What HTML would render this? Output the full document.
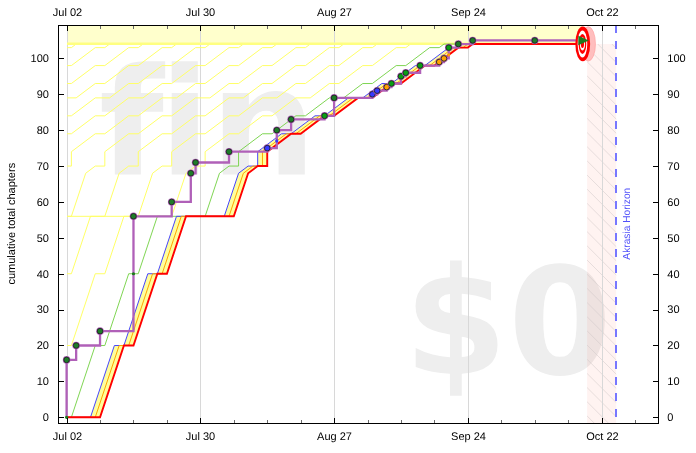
<!DOCTYPE html>
<html><head><meta charset="utf-8"><title>chart</title>
<style>
html,body{margin:0;padding:0;background:#fff;}
body{width:696px;height:453px;overflow:hidden;}
svg{display:block;will-change:transform;text-rendering:geometricPrecision;font-family:"Liberation Sans",sans-serif;}
</style></head><body>
<svg width="696" height="453" viewBox="0 0 696 453">
<defs>
<clipPath id="cp"><rect x="66.00" y="25.50" width="516.52" height="398.00"/></clipPath>
<clipPath id="cpi"><rect x="67.00" y="43.54" width="515.52" height="379.46"/></clipPath>
<clipPath id="cpk"><rect x="587.12" y="44.04" width="29.08" height="379.46"/></clipPath>
</defs>
<rect width="100%" height="100%" fill="#fff"/>
<g fill="#eeeeee">
<path transform="translate(99.00 174.60) scale(0.07280 -0.07280)" d="M909 1556V1321H711Q635 1321 605 1294Q575 1266 575 1198V1120H881V864H575V0H217V864H39V1120H217V1198Q217 1381 319 1468Q421 1556 635 1556Z"/>
<path transform="translate(159.20 174.60) scale(0.07280 -0.07280)" d="M172 1120H530V0H172ZM172 1556H530V1264H172Z"/>
<path transform="translate(210.30 174.60) scale(0.07280 -0.07280)" d="M1298 682V0H938V111V522Q938 667 932 722Q925 777 909 803Q888 838 852 858Q816 877 770 877Q658 877 594 790Q530 704 530 551V0H172V1120H530V956Q611 1054 702 1100Q793 1147 903 1147Q1097 1147 1198 1028Q1298 909 1298 682Z"/>
<path transform="translate(403.90 373.80) scale(0.07280 -0.07280)" d="M795 -301H633L632 0Q507 5 390 28Q273 51 162 92V354Q277 295 394 264Q512 232 633 228V539L600 545Q361 587 260 677Q160 767 160 936Q160 1115 282 1216Q405 1316 632 1325L633 1556H795V1329Q895 1321 995 1304Q1095 1287 1196 1260V1006Q1096 1048 996 1072Q896 1095 795 1100V813L827 807Q1081 767 1184 674Q1286 580 1286 397Q1286 213 1164 114Q1042 16 795 2ZM633 836V1097Q562 1093 520 1058Q477 1024 477 971Q477 912 516 878Q555 845 633 836ZM795 510V232Q882 233 926 266Q969 299 969 365Q969 433 929 466Q889 500 795 510Z"/>
<path transform="translate(508.10 373.80) scale(0.07280 -0.07280)" d="M942 748Q942 1028 890 1142Q837 1257 713 1257Q589 1257 536 1142Q483 1028 483 748Q483 465 536 349Q589 233 713 233Q836 233 889 349Q942 465 942 748ZM1327 745Q1327 374 1167 172Q1007 -29 713 -29Q418 -29 258 172Q98 374 98 745Q98 1117 258 1318Q418 1520 713 1520Q1007 1520 1167 1318Q1327 1117 1327 745Z"/>
</g>
<rect x="67.00" y="25.50" width="515.52" height="18.54" fill="#ffffcc"/>
<line x1="67.5" y1="25.5" x2="67.5" y2="423.5" stroke="#d8d8d8" stroke-width="1"/>
<line x1="200.5" y1="25.5" x2="200.5" y2="423.5" stroke="#d8d8d8" stroke-width="1"/>
<line x1="334.5" y1="25.5" x2="334.5" y2="423.5" stroke="#d8d8d8" stroke-width="1"/>
<line x1="468.5" y1="25.5" x2="468.5" y2="423.5" stroke="#d8d8d8" stroke-width="1"/>
<line x1="602.5" y1="25.5" x2="602.5" y2="423.5" stroke="#d8d8d8" stroke-width="1"/>
<rect x="587.12" y="44.04" width="29.08" height="379.46" fill="#ff2400" fill-opacity="0.055"/>
<g clip-path="url(#cpk)" stroke="#d0c8c8" stroke-opacity="0.5" stroke-width="1">
<line x1="585.1" y1="17.2" x2="618.2" y2="50.3"/>
<line x1="585.1" y1="31.4" x2="618.2" y2="64.5"/>
<line x1="585.1" y1="45.5" x2="618.2" y2="78.6"/>
<line x1="585.1" y1="59.7" x2="618.2" y2="92.8"/>
<line x1="585.1" y1="73.9" x2="618.2" y2="107.0"/>
<line x1="585.1" y1="88.0" x2="618.2" y2="121.1"/>
<line x1="585.1" y1="102.2" x2="618.2" y2="135.3"/>
<line x1="585.1" y1="116.4" x2="618.2" y2="149.5"/>
<line x1="585.1" y1="130.6" x2="618.2" y2="163.6"/>
<line x1="585.1" y1="144.7" x2="618.2" y2="177.8"/>
<line x1="585.1" y1="158.9" x2="618.2" y2="192.0"/>
<line x1="585.1" y1="173.1" x2="618.2" y2="206.2"/>
<line x1="585.1" y1="187.2" x2="618.2" y2="220.3"/>
<line x1="585.1" y1="201.4" x2="618.2" y2="234.5"/>
<line x1="585.1" y1="215.6" x2="618.2" y2="248.7"/>
<line x1="585.1" y1="229.7" x2="618.2" y2="262.8"/>
<line x1="585.1" y1="243.9" x2="618.2" y2="277.0"/>
<line x1="585.1" y1="258.1" x2="618.2" y2="291.2"/>
<line x1="585.1" y1="272.3" x2="618.2" y2="305.3"/>
<line x1="585.1" y1="286.4" x2="618.2" y2="319.5"/>
<line x1="585.1" y1="300.6" x2="618.2" y2="333.7"/>
<line x1="585.1" y1="314.8" x2="618.2" y2="347.9"/>
<line x1="585.1" y1="328.9" x2="618.2" y2="362.0"/>
<line x1="585.1" y1="343.1" x2="618.2" y2="376.2"/>
<line x1="585.1" y1="357.3" x2="618.2" y2="390.4"/>
<line x1="585.1" y1="371.5" x2="618.2" y2="404.5"/>
<line x1="585.1" y1="385.6" x2="618.2" y2="418.7"/>
<line x1="585.1" y1="399.8" x2="618.2" y2="432.9"/>
<line x1="585.1" y1="414.0" x2="618.2" y2="447.0"/>
<line x1="585.1" y1="428.1" x2="618.2" y2="461.2"/>
<line x1="585.1" y1="442.3" x2="618.2" y2="475.4"/>
<line x1="585.1" y1="456.5" x2="618.2" y2="489.6"/>
</g>
<line x1="602.5" y1="25.5" x2="602.5" y2="423.5" stroke="#d8d8d8" stroke-width="1"/>
<g clip-path="url(#cpi)" fill="none" stroke="#ffff66" stroke-width="1">
<path d="M-186.58 417.30 L4.50 417.30 L37.94 417.30 L61.82 345.52 L71.38 345.52 L95.26 273.74 L104.82 273.74 L123.92 216.32 L171.69 216.32 L186.02 173.25 L195.58 166.07 L205.13 166.07 L205.13 151.71 L229.02 133.77 L238.57 133.77 L262.46 115.82 L272.01 115.82 L295.90 97.88 L310.23 97.88 L329.34 83.52 L338.89 83.52 L362.77 65.58 L372.33 65.58 L396.21 47.63 L405.77 47.63 L410.54 44.04 L520.41 44.04"/>
<path d="M-220.02 417.30 L-28.94 417.30 L4.50 417.30 L28.38 345.52 L37.94 345.52 L61.82 273.74 L71.38 273.74 L90.48 216.32 L138.25 216.32 L152.59 173.25 L162.14 166.07 L171.69 166.07 L171.69 151.71 L195.58 133.77 L205.13 133.77 L229.02 115.82 L238.57 115.82 L262.46 97.88 L276.79 97.88 L295.90 83.52 L305.45 83.52 L329.34 65.58 L338.89 65.58 L362.77 47.63 L372.33 47.63 L377.11 44.04 L486.98 44.04"/>
<path d="M-253.46 417.30 L-62.38 417.30 L-28.94 417.30 L-5.06 345.52 L4.50 345.52 L28.38 273.74 L37.94 273.74 L57.05 216.32 L104.82 216.32 L119.15 173.25 L128.70 166.07 L138.25 166.07 L138.25 151.71 L162.14 133.77 L171.69 133.77 L195.58 115.82 L205.13 115.82 L229.02 97.88 L243.35 97.88 L262.46 83.52 L272.01 83.52 L295.90 65.58 L305.45 65.58 L329.34 47.63 L338.89 47.63 L343.67 44.04 L453.54 44.04"/>
<path d="M-286.90 417.30 L-95.82 417.30 L-62.38 417.30 L-38.49 345.52 L-28.94 345.52 L-5.06 273.74 L4.50 273.74 L23.61 216.32 L71.38 216.32 L85.71 173.25 L95.26 166.07 L104.82 166.07 L104.82 151.71 L128.70 133.77 L138.25 133.77 L162.14 115.82 L171.69 115.82 L195.58 97.88 L209.91 97.88 L229.02 83.52 L238.57 83.52 L262.46 65.58 L272.01 65.58 L295.90 47.63 L305.45 47.63 L310.23 44.04 L420.10 44.04"/>
<path d="M-320.34 417.30 L-129.26 417.30 L-95.82 417.30 L-71.93 345.52 L-62.38 345.52 L-38.49 273.74 L-28.94 273.74 L-9.83 216.32 L37.94 216.32 L52.27 173.25 L61.82 166.07 L71.38 166.07 L71.38 151.71 L95.26 133.77 L104.82 133.77 L128.70 115.82 L138.25 115.82 L162.14 97.88 L176.47 97.88 L195.58 83.52 L205.13 83.52 L229.02 65.58 L238.57 65.58 L262.46 47.63 L272.01 47.63 L276.79 44.04 L386.66 44.04"/>
<path d="M-353.78 417.30 L-162.70 417.30 L-129.26 417.30 L-105.37 345.52 L-95.82 345.52 L-71.93 273.74 L-62.38 273.74 L-43.27 216.32 L4.50 216.32 L18.83 173.25 L28.38 166.07 L37.94 166.07 L37.94 151.71 L61.82 133.77 L71.38 133.77 L95.26 115.82 L104.82 115.82 L128.70 97.88 L143.03 97.88 L162.14 83.52 L171.69 83.52 L195.58 65.58 L205.13 65.58 L229.02 47.63 L238.57 47.63 L243.35 44.04 L353.22 44.04"/>
<path d="M-387.22 417.30 L-196.14 417.30 L-162.70 417.30 L-138.81 345.52 L-129.26 345.52 L-105.37 273.74 L-95.82 273.74 L-76.71 216.32 L-28.94 216.32 L-14.61 173.25 L-5.06 166.07 L4.50 166.07 L4.50 151.71 L28.38 133.77 L37.94 133.77 L61.82 115.82 L71.38 115.82 L95.26 97.88 L109.59 97.88 L128.70 83.52 L138.25 83.52 L162.14 65.58 L171.69 65.58 L195.58 47.63 L205.13 47.63 L209.91 44.04 L319.78 44.04"/>
<path d="M-420.65 417.30 L-229.57 417.30 L-196.14 417.30 L-172.25 345.52 L-162.70 345.52 L-138.81 273.74 L-129.26 273.74 L-110.15 216.32 L-62.38 216.32 L-48.05 173.25 L-38.49 166.07 L-28.94 166.07 L-28.94 151.71 L-5.06 133.77 L4.50 133.77 L28.38 115.82 L37.94 115.82 L61.82 97.88 L76.15 97.88 L95.26 83.52 L104.82 83.52 L128.70 65.58 L138.25 65.58 L162.14 47.63 L171.69 47.63 L176.47 44.04 L286.34 44.04"/>
<path d="M-454.09 417.30 L-263.01 417.30 L-229.57 417.30 L-205.69 345.52 L-196.14 345.52 L-172.25 273.74 L-162.70 273.74 L-143.59 216.32 L-95.82 216.32 L-81.49 173.25 L-71.93 166.07 L-62.38 166.07 L-62.38 151.71 L-38.49 133.77 L-28.94 133.77 L-5.06 115.82 L4.50 115.82 L28.38 97.88 L42.71 97.88 L61.82 83.52 L71.38 83.52 L95.26 65.58 L104.82 65.58 L128.70 47.63 L138.25 47.63 L143.03 44.04 L252.90 44.04"/>
<path d="M-487.53 417.30 L-296.45 417.30 L-263.01 417.30 L-239.13 345.52 L-229.57 345.52 L-205.69 273.74 L-196.14 273.74 L-177.03 216.32 L-129.26 216.32 L-114.93 173.25 L-105.37 166.07 L-95.82 166.07 L-95.82 151.71 L-71.93 133.77 L-62.38 133.77 L-38.49 115.82 L-28.94 115.82 L-5.06 97.88 L9.28 97.88 L28.38 83.52 L37.94 83.52 L61.82 65.58 L71.38 65.58 L95.26 47.63 L104.82 47.63 L109.59 44.04 L219.46 44.04"/>
<path d="M-520.97 417.30 L-329.89 417.30 L-296.45 417.30 L-272.57 345.52 L-263.01 345.52 L-239.13 273.74 L-229.57 273.74 L-210.47 216.32 L-162.70 216.32 L-148.37 173.25 L-138.81 166.07 L-129.26 166.07 L-129.26 151.71 L-105.37 133.77 L-95.82 133.77 L-71.93 115.82 L-62.38 115.82 L-38.49 97.88 L-24.16 97.88 L-5.06 83.52 L4.50 83.52 L28.38 65.58 L37.94 65.58 L61.82 47.63 L71.38 47.63 L76.15 44.04 L186.02 44.04"/>
<path d="M-554.41 417.30 L-363.33 417.30 L-329.89 417.30 L-306.01 345.52 L-296.45 345.52 L-272.57 273.74 L-263.01 273.74 L-243.91 216.32 L-196.14 216.32 L-181.80 173.25 L-172.25 166.07 L-162.70 166.07 L-162.70 151.71 L-138.81 133.77 L-129.26 133.77 L-105.37 115.82 L-95.82 115.82 L-71.93 97.88 L-57.60 97.88 L-38.49 83.52 L-28.94 83.52 L-5.06 65.58 L4.50 65.58 L28.38 47.63 L37.94 47.63 L42.71 44.04 L152.59 44.04"/>
<path d="M-587.85 417.30 L-396.77 417.30 L-363.33 417.30 L-339.45 345.52 L-329.89 345.52 L-306.01 273.74 L-296.45 273.74 L-277.34 216.32 L-229.57 216.32 L-215.24 173.25 L-205.69 166.07 L-196.14 166.07 L-196.14 151.71 L-172.25 133.77 L-162.70 133.77 L-138.81 115.82 L-129.26 115.82 L-105.37 97.88 L-91.04 97.88 L-71.93 83.52 L-62.38 83.52 L-38.49 65.58 L-28.94 65.58 L-5.06 47.63 L4.50 47.63 L9.28 44.04 L119.15 44.04"/>
<path d="M-621.29 417.30 L-430.21 417.30 L-396.77 417.30 L-372.88 345.52 L-363.33 345.52 L-339.45 273.74 L-329.89 273.74 L-310.78 216.32 L-263.01 216.32 L-248.68 173.25 L-239.13 166.07 L-229.57 166.07 L-229.57 151.71 L-205.69 133.77 L-196.14 133.77 L-172.25 115.82 L-162.70 115.82 L-138.81 97.88 L-124.48 97.88 L-105.37 83.52 L-95.82 83.52 L-71.93 65.58 L-62.38 65.58 L-38.49 47.63 L-28.94 47.63 L-24.16 44.04 L85.71 44.04"/>
</g>
<line x1="67.00" y1="43.74" x2="582.52" y2="43.74" stroke="#ffff80" stroke-width="2.3"/>
<g clip-path="url(#cp)">
<path d="M-134.03 417.30 L57.05 417.30 L90.48 417.30 L114.37 345.52 L123.92 345.52 L147.81 273.74 L157.36 273.74 L176.47 216.32 L224.24 216.32 L238.57 173.25 L248.13 166.07 L257.68 166.07 L257.68 151.71 L281.56 133.77 L291.12 133.77 L315.00 115.82 L324.56 115.82 L348.44 97.88 L362.77 97.88 L381.88 83.52 L391.44 83.52 L415.32 65.58 L424.88 65.58 L448.76 47.63 L458.31 47.63 L463.09 44.04 L572.96 44.04 L582.52 44.04 L472.64 44.04 L467.87 47.63 L458.31 47.63 L434.43 65.58 L424.88 65.58 L400.99 83.52 L391.44 83.52 L372.33 97.88 L358.00 97.88 L334.11 115.82 L324.56 115.82 L300.67 133.77 L291.12 133.77 L267.23 151.71 L267.23 166.07 L257.68 166.07 L248.13 173.25 L233.79 216.32 L186.02 216.32 L166.92 273.74 L157.36 273.74 L133.48 345.52 L123.92 345.52 L100.04 417.30 L66.60 417.30 L-124.48 417.30 Z" fill="#ffff99" stroke="none"/>
<path d="M-153.14 417.30 L37.94 417.30 L71.38 417.30 L95.26 345.52 L104.82 345.52 L128.70 273.74 L138.25 273.74 L157.36 216.32 L205.13 216.32 L219.46 173.25 L229.02 166.07 L238.57 166.07 L238.57 151.71 L262.46 133.77 L272.01 133.77 L295.90 115.82 L305.45 115.82 L329.34 97.88 L343.67 97.88 L362.77 83.52 L372.33 83.52 L396.21 65.58 L405.77 65.58 L429.65 47.63 L439.21 47.63 L443.98 44.04 L553.85 44.04" fill="none" stroke="#70d040" stroke-width="0.9"/>
<path d="M-134.03 417.30 L57.05 417.30 L90.48 417.30 L114.37 345.52 L123.92 345.52 L147.81 273.74 L157.36 273.74 L176.47 216.32 L224.24 216.32 L238.57 173.25 L248.13 166.07 L257.68 166.07 L257.68 151.71 L281.56 133.77 L291.12 133.77 L315.00 115.82 L324.56 115.82 L348.44 97.88 L362.77 97.88 L381.88 83.52 L391.44 83.52 L415.32 65.58 L424.88 65.58 L448.76 47.63 L458.31 47.63 L463.09 44.04 L572.96 44.04" fill="none" stroke="#4646ff" stroke-width="1"/>
<path d="M-129.26 417.30 L61.82 417.30 L95.26 417.30 L119.15 345.52 L128.70 345.52 L152.59 273.74 L162.14 273.74 L181.25 216.32 L229.02 216.32 L243.35 173.25 L252.90 166.07 L262.46 166.07 L262.46 151.71 L286.34 133.77 L295.90 133.77 L319.78 115.82 L329.34 115.82 L353.22 97.88 L367.55 97.88 L386.66 83.52 L396.21 83.52 L420.10 65.58 L429.65 65.58 L453.54 47.63 L463.09 47.63 L467.87 44.04 L577.74 44.04" fill="none" stroke="#ffa500" stroke-width="1"/>
<path d="M-124.48 417.30 L66.60 417.30 L100.04 417.30 L123.92 345.52 L133.48 345.52 L157.36 273.74 L166.92 273.74 L186.02 216.32 L233.79 216.32 L248.13 173.25 L257.68 166.07 L267.23 166.07 L267.23 151.71 L291.12 133.77 L300.67 133.77 L324.56 115.82 L334.11 115.82 L358.00 97.88 L372.33 97.88 L391.44 83.52 L400.99 83.52 L424.88 65.58 L434.43 65.58 L458.31 47.63 L467.87 47.63 L472.64 44.04 L582.52 44.04" fill="none" stroke="#ff0000" stroke-width="1.9" stroke-linejoin="miter"/>
</g>
<path d="M66.60 417.30 L66.60 359.88 L76.15 359.88 L76.15 345.52 L100.04 345.52 L100.04 331.16 L133.48 331.16 L133.48 273.74 L133.48 216.32 L171.69 216.32 L171.69 201.96 L190.80 201.96 L190.80 173.25 L195.58 173.25 L195.58 162.48 L229.02 162.48 L229.02 151.71 L267.23 151.71 L267.23 148.12 L276.79 148.12 L276.79 140.95 L276.79 130.18 L291.12 130.18 L291.12 119.41 L324.56 119.41 L324.56 115.82 L334.11 115.82 L334.11 97.88 L372.33 97.88 L372.33 94.29 L377.11 94.29 L377.11 90.70 L386.66 90.70 L386.66 87.11 L391.44 87.11 L391.44 83.52 L400.99 83.52 L400.99 76.35 L405.77 76.35 L405.77 72.76 L420.10 72.76 L420.10 65.58 L439.21 65.58 L439.21 61.99 L443.98 61.99 L443.98 58.40 L448.76 58.40 L448.76 54.81 L448.76 47.63 L458.31 47.63 L458.31 44.04 L472.64 44.04 L472.64 40.46 L534.75 40.46 L534.75 40.46 L578.22 40.46" fill="none" stroke="#b060b8" stroke-width="2.3" stroke-linejoin="miter"/>
<ellipse cx="588.25" cy="43.90" rx="7.2" ry="17.2" fill="#ffbebe" stroke="#ffa2a2" stroke-width="0.7"/>
<ellipse cx="582.75" cy="43.90" rx="7.4" ry="17.4" fill="#ff0000"/>
<ellipse cx="582.45" cy="43.90" rx="4.80" ry="13.50" fill="#ffffff"/>
<ellipse cx="582.45" cy="43.90" rx="3.80" ry="10.00" fill="#ff0000"/>
<ellipse cx="582.45" cy="43.90" rx="2.60" ry="6.60" fill="#ffffff"/>
<ellipse cx="582.45" cy="43.90" rx="1.60" ry="4.00" fill="#ff0000"/>
<path d="M578.30 35.66 L588.80 40.46 L578.30 45.26 Z" fill="#1f7a1f"/>
<circle cx="66.60" cy="417.30" r="1.6" fill="#1a7a1a"/>
<circle cx="66.60" cy="359.88" r="3.8" fill="#b060b8"/>
<circle cx="66.60" cy="359.88" r="2.8" fill="#1e7c28" stroke="#1c2420" stroke-width="0.85"/>
<circle cx="76.15" cy="345.52" r="3.8" fill="#b060b8"/>
<circle cx="76.15" cy="345.52" r="2.8" fill="#1e7c28" stroke="#1c2420" stroke-width="0.85"/>
<circle cx="100.04" cy="331.16" r="3.8" fill="#b060b8"/>
<circle cx="100.04" cy="331.16" r="2.8" fill="#1e7c28" stroke="#1c2420" stroke-width="0.85"/>
<circle cx="133.48" cy="273.74" r="1.6" fill="#1a7a1a"/>
<circle cx="133.48" cy="216.32" r="3.8" fill="#b060b8"/>
<circle cx="133.48" cy="216.32" r="2.8" fill="#1e7c28" stroke="#1c2420" stroke-width="0.85"/>
<circle cx="171.69" cy="201.96" r="3.8" fill="#b060b8"/>
<circle cx="171.69" cy="201.96" r="2.8" fill="#1e7c28" stroke="#1c2420" stroke-width="0.85"/>
<circle cx="190.80" cy="173.25" r="3.8" fill="#b060b8"/>
<circle cx="190.80" cy="173.25" r="2.8" fill="#1e7c28" stroke="#1c2420" stroke-width="0.85"/>
<circle cx="195.58" cy="162.48" r="3.8" fill="#b060b8"/>
<circle cx="195.58" cy="162.48" r="2.8" fill="#1e7c28" stroke="#1c2420" stroke-width="0.85"/>
<circle cx="229.02" cy="151.71" r="3.8" fill="#b060b8"/>
<circle cx="229.02" cy="151.71" r="2.8" fill="#1e7c28" stroke="#1c2420" stroke-width="0.85"/>
<circle cx="267.23" cy="148.12" r="3.8" fill="#b060b8"/>
<circle cx="267.23" cy="148.12" r="2.8" fill="#3838ff" stroke="#1c2420" stroke-width="0.85"/>
<circle cx="276.79" cy="140.95" r="1.6" fill="#3838ff"/>
<circle cx="276.79" cy="130.18" r="3.8" fill="#b060b8"/>
<circle cx="276.79" cy="130.18" r="2.8" fill="#1e7c28" stroke="#1c2420" stroke-width="0.85"/>
<circle cx="291.12" cy="119.41" r="3.8" fill="#b060b8"/>
<circle cx="291.12" cy="119.41" r="2.8" fill="#1e7c28" stroke="#1c2420" stroke-width="0.85"/>
<circle cx="324.56" cy="115.82" r="3.8" fill="#b060b8"/>
<circle cx="324.56" cy="115.82" r="2.8" fill="#0a9f14" stroke="#1c2420" stroke-width="0.85"/>
<circle cx="334.11" cy="97.88" r="3.8" fill="#b060b8"/>
<circle cx="334.11" cy="97.88" r="2.8" fill="#1e7c28" stroke="#1c2420" stroke-width="0.85"/>
<circle cx="372.33" cy="94.29" r="3.8" fill="#b060b8"/>
<circle cx="372.33" cy="94.29" r="2.8" fill="#3838ff" stroke="#1c2420" stroke-width="0.85"/>
<circle cx="377.11" cy="90.70" r="3.8" fill="#b060b8"/>
<circle cx="377.11" cy="90.70" r="2.8" fill="#3838ff" stroke="#1c2420" stroke-width="0.85"/>
<circle cx="386.66" cy="87.11" r="3.8" fill="#b060b8"/>
<circle cx="386.66" cy="87.11" r="2.8" fill="#ffa000" stroke="#1c2420" stroke-width="0.85"/>
<circle cx="391.44" cy="83.52" r="3.8" fill="#b060b8"/>
<circle cx="391.44" cy="83.52" r="2.8" fill="#0a9f14" stroke="#1c2420" stroke-width="0.85"/>
<circle cx="400.99" cy="76.35" r="3.8" fill="#b060b8"/>
<circle cx="400.99" cy="76.35" r="2.8" fill="#0a9f14" stroke="#1c2420" stroke-width="0.85"/>
<circle cx="405.77" cy="72.76" r="3.8" fill="#b060b8"/>
<circle cx="405.77" cy="72.76" r="2.8" fill="#0a9f14" stroke="#1c2420" stroke-width="0.85"/>
<circle cx="420.10" cy="65.58" r="3.8" fill="#b060b8"/>
<circle cx="420.10" cy="65.58" r="2.8" fill="#0a9f14" stroke="#1c2420" stroke-width="0.85"/>
<circle cx="439.21" cy="61.99" r="3.8" fill="#b060b8"/>
<circle cx="439.21" cy="61.99" r="2.8" fill="#ffa000" stroke="#1c2420" stroke-width="0.85"/>
<circle cx="443.98" cy="58.40" r="3.8" fill="#b060b8"/>
<circle cx="443.98" cy="58.40" r="2.8" fill="#ffa000" stroke="#1c2420" stroke-width="0.85"/>
<circle cx="448.76" cy="54.81" r="1.6" fill="#ffa000"/>
<circle cx="448.76" cy="47.63" r="3.8" fill="#b060b8"/>
<circle cx="448.76" cy="47.63" r="2.8" fill="#0a9f14" stroke="#1c2420" stroke-width="0.85"/>
<circle cx="458.31" cy="44.04" r="3.8" fill="#b060b8"/>
<circle cx="458.31" cy="44.04" r="2.8" fill="#1e7c28" stroke="#1c2420" stroke-width="0.85"/>
<circle cx="472.64" cy="40.46" r="3.8" fill="#b060b8"/>
<circle cx="472.64" cy="40.46" r="2.8" fill="#1e7c28" stroke="#1c2420" stroke-width="0.85"/>
<circle cx="534.75" cy="40.46" r="3.8" fill="#b060b8"/>
<circle cx="534.75" cy="40.46" r="2.8" fill="#1e7c28" stroke="#1c2420" stroke-width="0.85"/>
<line x1="616" y1="25.1" x2="616" y2="417.3" stroke="#7777ff" stroke-width="2" stroke-dasharray="7.9 8.1"/>
<text transform="translate(629.6 223.7) rotate(-90)" text-anchor="middle" font-size="10.2" fill="#5050fa">Akrasia Horizon</text>
<rect x="58.5" y="25.5" width="600.0" height="398.0" fill="none" stroke="#000" stroke-width="1"/>
<g stroke="#000" stroke-width="1">
<line x1="67.5" y1="26.0" x2="67.5" y2="31.0"/>
<line x1="67.5" y1="423.0" x2="67.5" y2="418.0"/>
<line x1="100.5" y1="26.0" x2="100.5" y2="29.0" stroke="#6a6a6a"/>
<line x1="100.5" y1="423.0" x2="100.5" y2="420.0" stroke="#6a6a6a"/>
<line x1="133.5" y1="26.0" x2="133.5" y2="29.0" stroke="#6a6a6a"/>
<line x1="133.5" y1="423.0" x2="133.5" y2="420.0" stroke="#6a6a6a"/>
<line x1="167.5" y1="26.0" x2="167.5" y2="29.0" stroke="#6a6a6a"/>
<line x1="167.5" y1="423.0" x2="167.5" y2="420.0" stroke="#6a6a6a"/>
<line x1="200.5" y1="26.0" x2="200.5" y2="31.0"/>
<line x1="200.5" y1="423.0" x2="200.5" y2="418.0"/>
<line x1="234.5" y1="26.0" x2="234.5" y2="29.0" stroke="#6a6a6a"/>
<line x1="234.5" y1="423.0" x2="234.5" y2="420.0" stroke="#6a6a6a"/>
<line x1="267.5" y1="26.0" x2="267.5" y2="29.0" stroke="#6a6a6a"/>
<line x1="267.5" y1="423.0" x2="267.5" y2="420.0" stroke="#6a6a6a"/>
<line x1="301.5" y1="26.0" x2="301.5" y2="29.0" stroke="#6a6a6a"/>
<line x1="301.5" y1="423.0" x2="301.5" y2="420.0" stroke="#6a6a6a"/>
<line x1="334.5" y1="26.0" x2="334.5" y2="31.0"/>
<line x1="334.5" y1="423.0" x2="334.5" y2="418.0"/>
<line x1="368.5" y1="26.0" x2="368.5" y2="29.0" stroke="#6a6a6a"/>
<line x1="368.5" y1="423.0" x2="368.5" y2="420.0" stroke="#6a6a6a"/>
<line x1="401.5" y1="26.0" x2="401.5" y2="29.0" stroke="#6a6a6a"/>
<line x1="401.5" y1="423.0" x2="401.5" y2="420.0" stroke="#6a6a6a"/>
<line x1="434.5" y1="26.0" x2="434.5" y2="29.0" stroke="#6a6a6a"/>
<line x1="434.5" y1="423.0" x2="434.5" y2="420.0" stroke="#6a6a6a"/>
<line x1="468.5" y1="26.0" x2="468.5" y2="31.0"/>
<line x1="468.5" y1="423.0" x2="468.5" y2="418.0"/>
<line x1="501.5" y1="26.0" x2="501.5" y2="29.0" stroke="#6a6a6a"/>
<line x1="501.5" y1="423.0" x2="501.5" y2="420.0" stroke="#6a6a6a"/>
<line x1="535.5" y1="26.0" x2="535.5" y2="29.0" stroke="#6a6a6a"/>
<line x1="535.5" y1="423.0" x2="535.5" y2="420.0" stroke="#6a6a6a"/>
<line x1="568.5" y1="26.0" x2="568.5" y2="29.0" stroke="#6a6a6a"/>
<line x1="568.5" y1="423.0" x2="568.5" y2="420.0" stroke="#6a6a6a"/>
<line x1="602.5" y1="26.0" x2="602.5" y2="31.0"/>
<line x1="602.5" y1="423.0" x2="602.5" y2="418.0"/>
<line x1="635.5" y1="26.0" x2="635.5" y2="29.0" stroke="#6a6a6a"/>
<line x1="635.5" y1="423.0" x2="635.5" y2="420.0" stroke="#6a6a6a"/>
<line x1="58.5" y1="417.5" x2="64.0" y2="417.5"/>
<line x1="658.5" y1="417.5" x2="653.0" y2="417.5"/>
<line x1="58.5" y1="381.5" x2="64.0" y2="381.5"/>
<line x1="658.5" y1="381.5" x2="653.0" y2="381.5"/>
<line x1="58.5" y1="345.5" x2="64.0" y2="345.5"/>
<line x1="658.5" y1="345.5" x2="653.0" y2="345.5"/>
<line x1="58.5" y1="310.5" x2="64.0" y2="310.5"/>
<line x1="658.5" y1="310.5" x2="653.0" y2="310.5"/>
<line x1="58.5" y1="274.5" x2="64.0" y2="274.5"/>
<line x1="658.5" y1="274.5" x2="653.0" y2="274.5"/>
<line x1="58.5" y1="238.5" x2="64.0" y2="238.5"/>
<line x1="658.5" y1="238.5" x2="653.0" y2="238.5"/>
<line x1="58.5" y1="202.5" x2="64.0" y2="202.5"/>
<line x1="658.5" y1="202.5" x2="653.0" y2="202.5"/>
<line x1="58.5" y1="166.5" x2="64.0" y2="166.5"/>
<line x1="658.5" y1="166.5" x2="653.0" y2="166.5"/>
<line x1="58.5" y1="130.5" x2="64.0" y2="130.5"/>
<line x1="658.5" y1="130.5" x2="653.0" y2="130.5"/>
<line x1="58.5" y1="94.5" x2="64.0" y2="94.5"/>
<line x1="658.5" y1="94.5" x2="653.0" y2="94.5"/>
<line x1="58.5" y1="58.5" x2="64.0" y2="58.5"/>
<line x1="658.5" y1="58.5" x2="653.0" y2="58.5"/>
</g>
<g font-size="11" fill="#000">
<text x="67.5" y="15.8" text-anchor="middle">Jul 02</text>
<text x="67.5" y="439.9" text-anchor="middle">Jul 02</text>
<text x="200.5" y="15.8" text-anchor="middle">Jul 30</text>
<text x="200.5" y="439.9" text-anchor="middle">Jul 30</text>
<text x="334.5" y="15.8" text-anchor="middle">Aug 27</text>
<text x="334.5" y="439.9" text-anchor="middle">Aug 27</text>
<text x="468.5" y="15.8" text-anchor="middle">Sep 24</text>
<text x="468.5" y="439.9" text-anchor="middle">Sep 24</text>
<text x="602.5" y="15.8" text-anchor="middle">Oct 22</text>
<text x="602.5" y="439.9" text-anchor="middle">Oct 22</text>
<text x="48.9" y="421.1" text-anchor="end">0</text>
<text x="667.3" y="421.1" text-anchor="start">0</text>
<text x="48.9" y="385.2" text-anchor="end">10</text>
<text x="667.3" y="385.2" text-anchor="start">10</text>
<text x="48.9" y="349.3" text-anchor="end">20</text>
<text x="667.3" y="349.3" text-anchor="start">20</text>
<text x="48.9" y="313.4" text-anchor="end">30</text>
<text x="667.3" y="313.4" text-anchor="start">30</text>
<text x="48.9" y="277.5" text-anchor="end">40</text>
<text x="667.3" y="277.5" text-anchor="start">40</text>
<text x="48.9" y="241.7" text-anchor="end">50</text>
<text x="667.3" y="241.7" text-anchor="start">50</text>
<text x="48.9" y="205.8" text-anchor="end">60</text>
<text x="667.3" y="205.8" text-anchor="start">60</text>
<text x="48.9" y="169.9" text-anchor="end">70</text>
<text x="667.3" y="169.9" text-anchor="start">70</text>
<text x="48.9" y="134.0" text-anchor="end">80</text>
<text x="667.3" y="134.0" text-anchor="start">80</text>
<text x="48.9" y="98.1" text-anchor="end">90</text>
<text x="667.3" y="98.1" text-anchor="start">90</text>
<text x="48.9" y="62.2" text-anchor="end">100</text>
<text x="667.3" y="62.2" text-anchor="start">100</text>
<text transform="translate(14.7 223.7) rotate(-90)" text-anchor="middle">cumulative total chapters</text>
</g>
</svg>
</body></html>
